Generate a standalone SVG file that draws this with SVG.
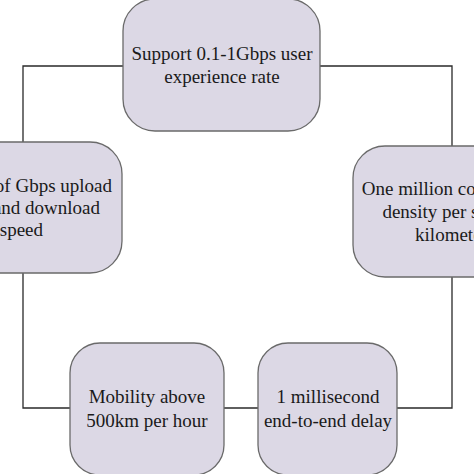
<svg xmlns="http://www.w3.org/2000/svg" width="474" height="474" viewBox="0 0 474 474">
<style>
.box{fill:#dcd8e5;stroke:#6a6a6a;stroke-width:1.3}
.t{font-family:"Liberation Serif","Times New Roman",serif;font-size:19px;fill:#1a1a1a;text-anchor:middle}
.e{text-anchor:end}
.c{fill:none;stroke:#2a2a2a;stroke-width:1.3}
</style>
<rect width="474" height="474" fill="#ffffff"/>
<g id="connectors">
<polyline class="c" points="123,66 23,66 23,142"/>
<polyline class="c" points="320,66 452,66 452,146"/>
<polyline class="c" points="23,273 23,408 70,408"/>
<line class="c" x1="224" y1="408" x2="258" y2="408"/>
<polyline class="c" points="397,408 452,408 452,277"/>
</g>
<g id="node-top">
<rect class="box" x="123" y="-1" width="197" height="132" rx="32"/>
<text class="t" x="222" y="60">Support 0.1-1Gbps user</text>
<text class="t" x="222" y="83">experience rate</text>
</g>
<g id="node-left">
<rect class="box" x="-75" y="142" width="197" height="131" rx="32"/>
<text class="t e" x="112" y="192">Tens of Gbps upload</text>
<text class="t e" x="100" y="214">and download</text>
<text class="t e" x="43" y="236">speed</text>
</g>
<g id="node-right">
<rect class="box" x="353" y="146" width="197" height="131" rx="32"/>
<text class="t" x="451.5" y="195">One million connection</text>
<text class="t" x="451.5" y="218">density per square</text>
<text class="t" x="451.5" y="241">kilometer</text>
</g>
<g id="node-mobility">
<rect class="box" x="70" y="343" width="154" height="132" rx="30"/>
<text class="t" x="147" y="403">Mobility above</text>
<text class="t" x="147" y="427">500km per hour</text>
</g>
<g id="node-delay">
<rect class="box" x="258" y="343" width="139" height="132" rx="30"/>
<text class="t" x="328" y="403">1 millisecond</text>
<text class="t" x="328" y="427">end-to-end delay</text>
</g>
</svg>
